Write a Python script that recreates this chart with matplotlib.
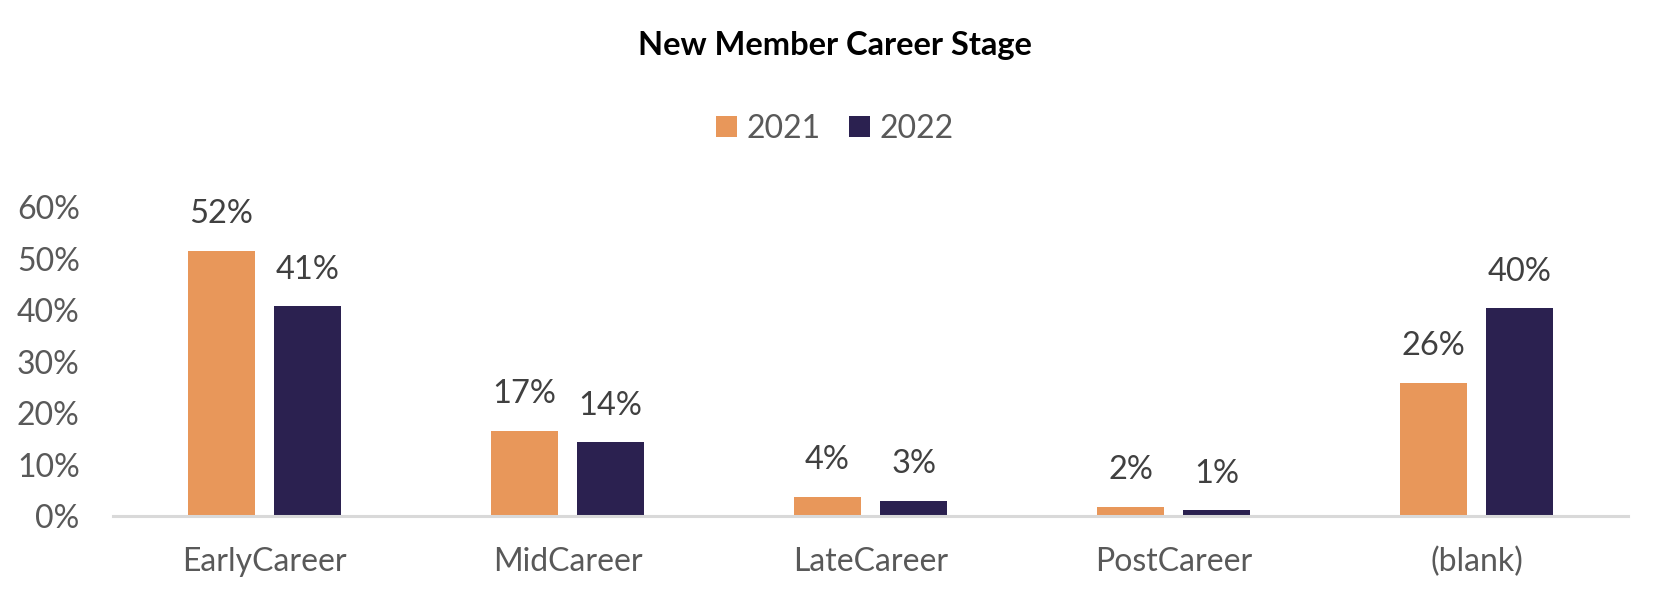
import numpy as np
import matplotlib
matplotlib.use("Agg")
import matplotlib.pyplot as plt
from matplotlib.ticker import PercentFormatter

# data
categories = ["EarlyCareer", "MidCareer", "LateCareer", "PostCareer", "(blank)"]
years = ["2021", "2022"]
share_2021 = [0.515, 0.166, 0.037, 0.017, 0.259]
share_2022 = [0.407, 0.143, 0.029, 0.011, 0.403]
y_ticks = [0.0, 0.1, 0.2, 0.3, 0.4, 0.5, 0.6]

ORANGE = "#E8975A"
NAVY = "#2B2150"
GRID_GREY = "#D9D9D9"
TICK_GREY = "#595959"
LABEL_GREY = "#404040"

plt.rcParams["font.family"] = ["Lato", "DejaVu Sans"]

fig = plt.figure(figsize=(16.7, 6.06), dpi=100)
ax = fig.add_axes([0.0677, 0.1485, 0.9072, 0.5099])

x = np.arange(len(categories))
width = 0.221
offset = 0.142

series = [(share_2021, ORANGE, years[0], -offset), (share_2022, NAVY, years[1], offset)]
for values, color, label, dx in series:
    bars = ax.bar(x + dx, values, width=width, color=color, label=label, zorder=2)
    for rect, v in zip(bars, values):
        ax.annotate(
            f"{round(v * 100):.0f}%",
            xy=(rect.get_x() + rect.get_width() / 2, rect.get_height()),
            xytext=(0, 26.5),
            textcoords="offset points",
            ha="center",
            va="center",
            fontsize=23.5,
            color=LABEL_GREY,
            annotation_clip=False,
        )

ax.set_xlim(-0.5, len(categories) - 0.5)
ax.set_ylim(0, 0.6)
ax.set_yticks(y_ticks)
ax.yaxis.set_major_formatter(PercentFormatter(1.0, decimals=0))
ax.set_xticks(x)
ax.set_xticklabels(categories)

ax.tick_params(axis="y", length=0, pad=24, labelsize=23, labelcolor=TICK_GREY)
ax.tick_params(axis="x", length=0, pad=22, labelsize=23, labelcolor=TICK_GREY)

for side in ("top", "right", "left"):
    ax.spines[side].set_visible(False)
ax.spines["bottom"].set_color(GRID_GREY)
ax.spines["bottom"].set_linewidth(2.2)
ax.spines["bottom"].set_zorder(3)

fig.text(
    0.5, 1 - 45 / 606, "New Member Career Stage",
    ha="center", va="center", fontsize=23.5, fontweight="bold", color="black",
)

handles, labels = ax.get_legend_handles_labels()
fig.legend(
    handles, labels,
    loc="center",
    bbox_to_anchor=(0.5, 1 - 129 / 606),
    ncol=2,
    frameon=False,
    fontsize=23,
    labelcolor=TICK_GREY,
    handlelength=0.64,
    handleheight=0.64,
    handletextpad=0.3,
    columnspacing=0.9,
)

fig.savefig("out.png", dpi=100, facecolor="white")
